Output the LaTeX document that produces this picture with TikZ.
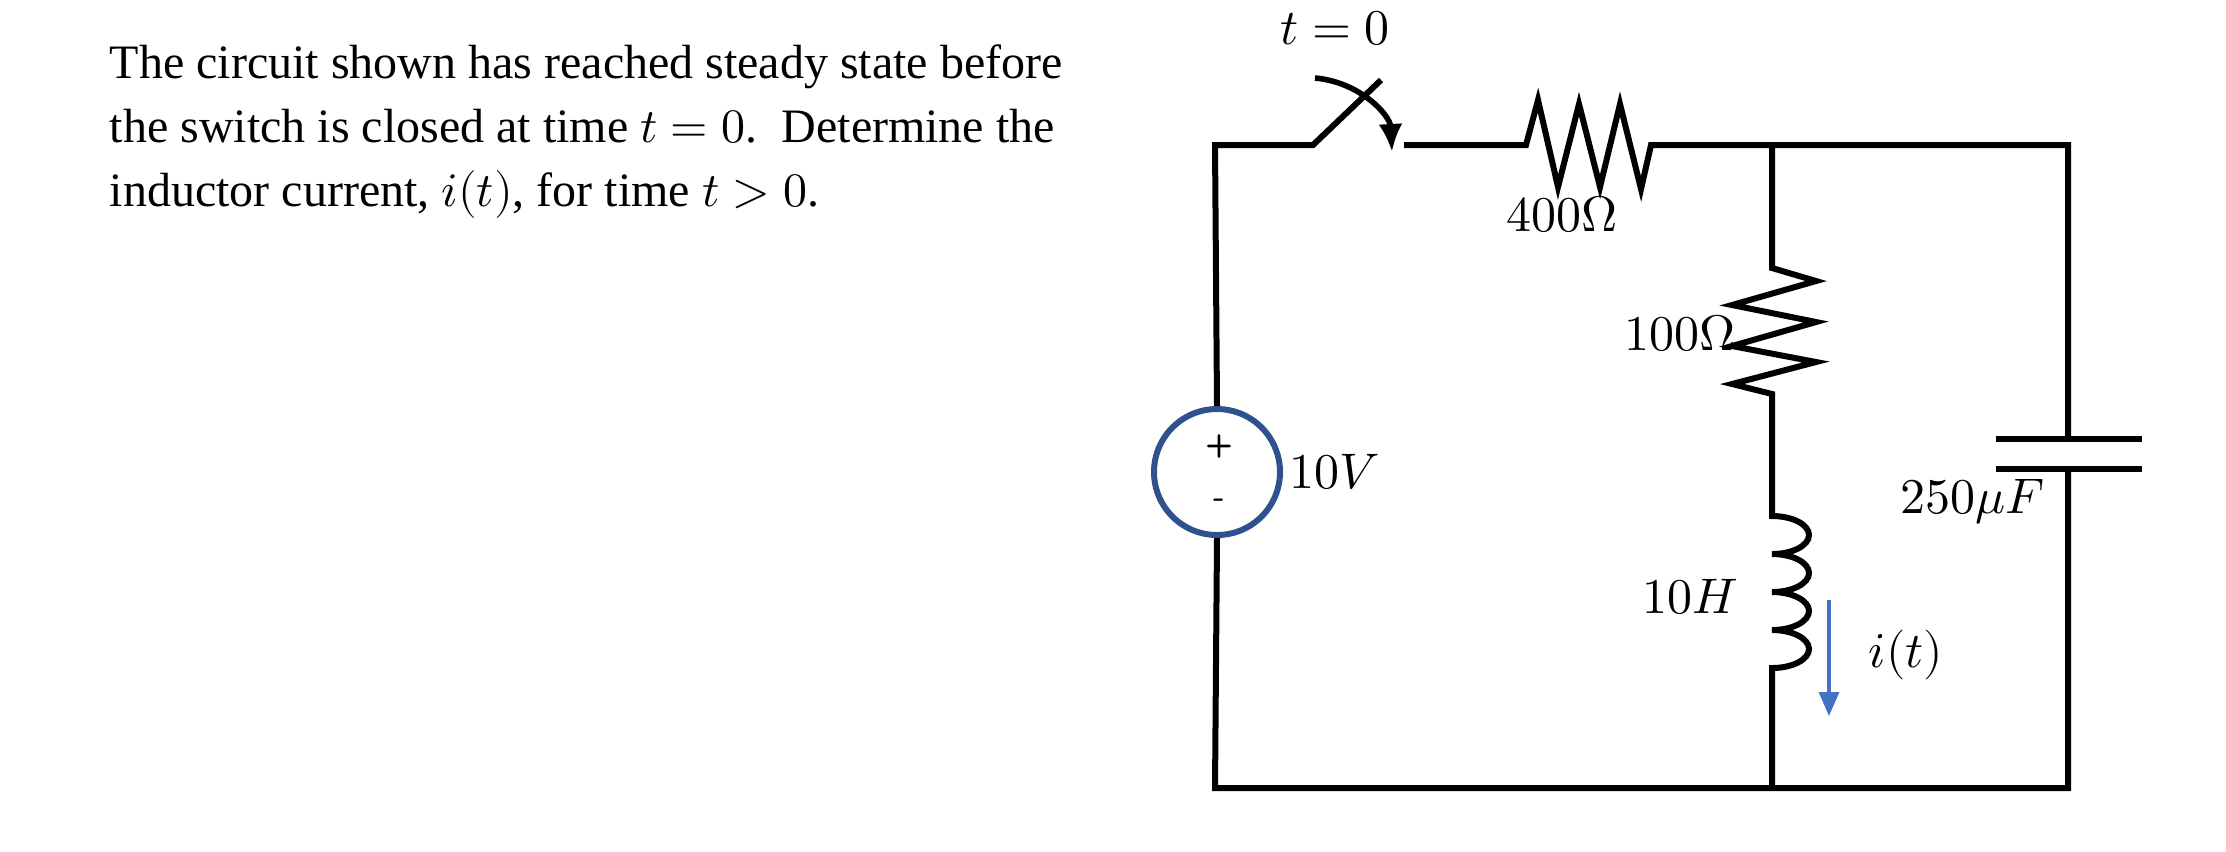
\documentclass[tikz,border=0pt]{standalone}
\usepackage{fontspec}
\setmainfont{Liberation Serif}
\usepackage{unicode-math}
\setmathfont{Latin Modern Math}
\usetikzlibrary{arrows.meta}
\definecolor{srcblue}{RGB}{47,82,143}
\definecolor{arrblue}{RGB}{68,114,196}
\tikzset{wire/.style={line width=1.5pt,line join=miter},
  lbl/.style={font=\fontsize{12.5}{14}\selectfont,inner sep=0pt}}
\begin{document}
\begin{tikzpicture}[x=0.25pt,y=-0.25pt]
\useasboundingbox (0,0) rectangle (2226,851);
\node[anchor=north west,align=left,inner sep=0pt,font=\fontsize{12}{16}\selectfont] (txt) at (109,44)
{The circuit shown has reached steady state before\\
the switch is closed at time $t=0$.\ \ Determine the\\
inductor current, $i(t)$, for time $t>0$.};
% coordinates
\coordinate (tl) at (1215,145);
\coordinate (sw1) at (1313,145);
\coordinate (swt) at (1381,80);
\coordinate (sw2) at (1404,145);
\coordinate (ra) at (1526,145);
\coordinate (rb) at (1651,145);
\coordinate (jt) at (1772,145);
\coordinate (tr) at (2068,145);
\coordinate (r2a) at (1772,268);
\coordinate (r2b) at (1772,394);
\coordinate (la) at (1772,516);
\coordinate (lb) at (1772,668);
\coordinate (jb) at (1772,788);
\coordinate (bl) at (1215,788);
\coordinate (br) at (2068,788);
\coordinate (ca) at (2068,439);
\coordinate (cb) at (2068,469);
\node[circle,draw=srcblue,line width=1.5pt,minimum size=31.5pt,inner sep=0pt] (src) at (1217,472) {};
\node[font=\sffamily\bfseries\fontsize{8}{8}\selectfont] (plus) at (1219,446) {+};
\node[font=\sffamily\bfseries\fontsize{8}{8}\selectfont] (minus) at (1219,503) {-};
% wires
\draw[wire] (src.north) -- (tl) -- (sw1) -- (swt);
\draw[wire] (sw2) -- (ra) -- (1538,100) -- (1558,187) -- (1579,104) -- (1600,187) -- (1620,104) -- (1641,189) -- (rb) -- (jt) -- (tr) -- (ca);
\draw[wire] (1996,439) -- (2142,439);
\draw[wire] (1996,469) -- (2142,469);
\draw[wire] (cb) -- (br) -- (jb) -- (bl) -- (src.south);
\draw[wire] (jt) -- (r2a) -- (1816,281) -- (1732,305) -- (1816,322) -- (1732,346) -- (1816,362) -- (1732,384) -- (r2b) -- (la)
  arc[start angle=90,end angle=-90,x radius=9.25pt,y radius=4.75pt]
  arc[start angle=90,end angle=-90,x radius=9.25pt,y radius=4.75pt]
  arc[start angle=90,end angle=-90,x radius=9.25pt,y radius=4.75pt]
  arc[start angle=90,end angle=-90,x radius=9.25pt,y radius=4.75pt] -- (lb) -- (jb);
\coordinate (arcs) at (1315,78);
\coordinate (arce) at (1392,152);
\draw[line width=1.4pt,-{Latex[length=7pt,width=6pt]}] (arcs) .. controls (1360,82) and (1390,115) .. (arce);
\coordinate (ia) at (1829,600);
\coordinate (ib) at (1829,716);
\draw[arrblue,line width=0.8pt,-{Triangle[length=6pt,width=5pt]}] (ia) -- (ib);
% labels
\node[lbl] (l0) at (1335,28) {$t=0$};
\node[lbl] (l1) at (1562,214) {$400\Omega$};
\node[lbl] (l2) at (1680,333) {$100\Omega$};
\node[lbl] (l3) at (1334,472) {$10V$};
\node[lbl] (l4) at (1690,597) {$10H$};
\node[lbl] (l5) at (1972,502) {$250\mu F$};
\node[lbl] (l6) at (1906,655) {$i(t)$};
\end{tikzpicture}
\end{document}
